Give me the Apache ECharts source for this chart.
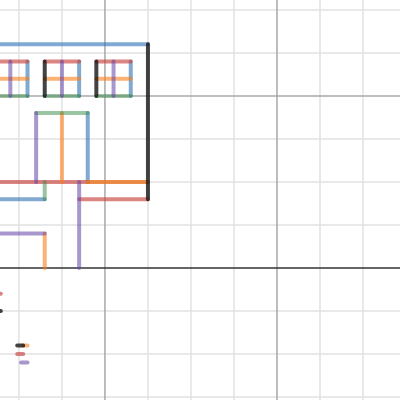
<!DOCTYPE html><html><head><meta charset="utf-8">
<script src="https://cdn.jsdelivr.net/npm/echarts@6/dist/echarts.min.js"></script>
<style>html,body{margin:0;padding:0}#c{width:400px;height:400px}</style></head><body><div id="c"></div>
<script>
// Segments [x1,y1,x2,y2] grouped by colour
const windowLefts = [1.4, 2.6, 3.8];
const blueSegs = [[1.4,5.2,5,5.2],[3.6,3.6,3.6,2.0],[1.4,1.6,2.6,1.6]];
const blackSegs = [[5,5.2,5,1.6],[1.96,-1.8,2.1,-1.8],[1.4,-1.0,1.58,-1.0]];
const redSegs = [[1.4,2.0,3.6,2.0],[3.4,1.6,5,1.6],[1.96,-2.0,2.1,-2.0],[1.4,-0.6,1.58,-0.6]];
const orangeSegs = [[3.0,3.6,3.0,2.0],[2.6,0.8,2.6,0],[2.1,-1.8,2.2,-1.8]];
const darkOrangeSegs = [[3.6,2.0,5,2.0]];
const greenSegs = [[2.4,3.6,3.6,3.6],[2.6,2.0,2.6,1.6]];
const purpleSegs = [[2.4,3.6,2.4,2.0],[3.4,2.0,3.4,0],[1.4,0.8,2.6,0.8],[2.05,-2.2,2.2,-2.2]];
windowLefts.forEach(L=>{
  redSegs.push([L,4.8,L+0.8,4.8]);
  orangeSegs.push([L,4.4,L+0.8,4.4]);
  greenSegs.push([L,4.0,L+0.8,4.0]);
  blackSegs.push([L,4.8,L,4.0]);
  purpleSegs.push([L+0.4,4.8,L+0.4,4.0]);
  blueSegs.push([L+0.8,4.8,L+0.8,4.0]);
});
const gridXs = [2,3,4,5,6,7,8,9,10];
const gridYs = [-3,-2,-1,0,1,2,3,4,5,6];
const X0=1.56,X1=10.86,Y0=-3.07,Y1=6.23;

function toData(segs){const d=[];segs.forEach(s=>{d.push([s[0],s[1]],[s[2],s[3]],null);});return d;}
function seg(segs,color,w,z){return {type:'line',data:toData(segs),connectNulls:false,showSymbol:false,silent:true,animation:false,z:z||3,lineStyle:{color:color,width:w,cap:'round'}};}
const series=[];
gridXs.forEach(x=>{const major=(x%4===0);series.push(seg([[x,Y0,x,Y1]],major?'#a8a8a8':'#e2e2e2',major?1.5:1.5,major?2:1));});
gridYs.forEach(y=>{const major=(y%4===0);let c=major?'#a8a8a8':'#e2e2e2';if(y===0)c='#333';series.push(seg([[X0,y,X1,y]],c,1.5,y===0?2:(major?2:1)));});
series.push(seg(blueSegs,'rgba(45,112,179,0.6)',4));
series.push(seg(redSegs,'rgba(199,68,64,0.65)',4));
series.push(seg(orangeSegs,'rgba(250,126,25,0.6)',4));
series.push(seg(darkOrangeSegs,'rgba(232,120,40,0.85)',4));
series.push(seg(greenSegs,'rgba(56,140,70,0.5)',4));
series.push(seg(purpleSegs,'rgba(96,66,166,0.55)',4));
series.push(seg(blackSegs,'rgba(20,20,20,0.8)',4));
const chart=echarts.init(document.getElementById('c'));
chart.setOption({animation:false,grid:{left:0,right:0,top:0,bottom:0},
 xAxis:{type:'value',min:X0,max:X1,show:false},
 yAxis:{type:'value',min:Y0,max:Y1,show:false},series});
</script></body></html>
